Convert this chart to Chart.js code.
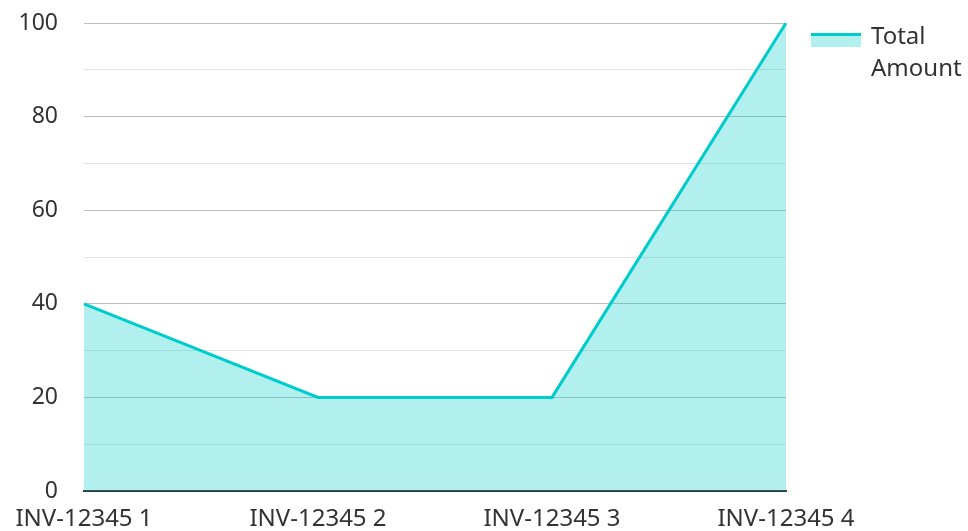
<!DOCTYPE html>
<html>
<head>
<meta charset="utf-8">
<script src="https://cdn.jsdelivr.net/npm/chart.js@4/dist/chart.umd.min.js"></script>
<style>
    html, body { margin: 0; padding: 0; background: #fff; }
    #wrap { position: relative; width: 968px; height: 531px; }
    #legend {
        position: absolute; left: 811px; top: 19px;
        font-family: "Noto Sans", sans-serif; font-size: 24px; color: #333;
        display: flex; align-items: flex-start;
    }
    #legend .swatch {
        width: 50px; height: 14px; margin-top: 14px; margin-right: 10px;
        background: rgba(0, 204, 204, 0.3); border-top: 3px solid #00cccc;
        box-sizing: border-box;
    }
    #legend .text { line-height: 32px; }
</style>
</head>
<body>
<div id="wrap">
    <canvas id="chart" width="968" height="531"></canvas>
    <div id="legend"><div class="swatch"></div><div class="text">Total<br>Amount</div></div>
</div>
<script>
// Données du graphique
const categories = ['INV-12345 1', 'INV-12345 2', 'INV-12345 3', 'INV-12345 4'];
const totalAmount = [40, 20, 20, 100];
const yTicks = [0, 20, 40, 60, 80, 100];

const lineColor = '#00cccc';
const fillColor = 'rgba(0, 204, 204, 0.3)';

document.addEventListener('DOMContentLoaded', () => {
    const ctx = document.getElementById('chart');
    new Chart(ctx, {
        type: 'line',
        data: {
            labels: categories,
            datasets: [{
                label: 'Total Amount',
                data: totalAmount,
                borderColor: lineColor,
                backgroundColor: fillColor,
                borderWidth: 3,
                fill: 'origin',
                tension: 0,
                pointRadius: 0
            }]
        },
        options: {
            responsive: false,
            animation: false,
            layout: { padding: { left: 0, right: 182, top: 23, bottom: 0 } },
            plugins: {
                legend: { display: false },
                tooltip: { enabled: false }
            },
            scales: {
                x: {
                    offset: false,
                    grid: { display: false, drawTicks: false },
                    border: { display: true, color: '#333', width: 2 },
                    ticks: {
                        padding: 14,
                        color: '#333',
                        maxRotation: 0,
                        autoSkip: false,
                        font: { family: 'Noto Sans', size: 24 }
                    },
                    afterFit: (scale) => { scale.height = 40; }
                },
                y: {
                    min: yTicks[0],
                    max: yTicks[yTicks.length - 1],
                    ticks: {
                        stepSize: 10,
                        padding: 4,
                        color: '#333',
                        font: { family: 'Noto Sans', size: 23 },
                        callback: (v) => yTicks.includes(v) ? v : ''
                    },
                    grid: {
                        drawTicks: true,
                        tickLength: 22,
                        tickColor: 'transparent',
                        lineWidth: 1,
                        color: (c) => (c.tick && c.tick.value % 20 === 0) ? '#bdbdbd' : '#e3e3e3'
                    },
                    border: { display: false },
                    afterFit: (scale) => { scale.width = 84; }
                }
            }
        }
    });
});
</script>
</body>
</html>
